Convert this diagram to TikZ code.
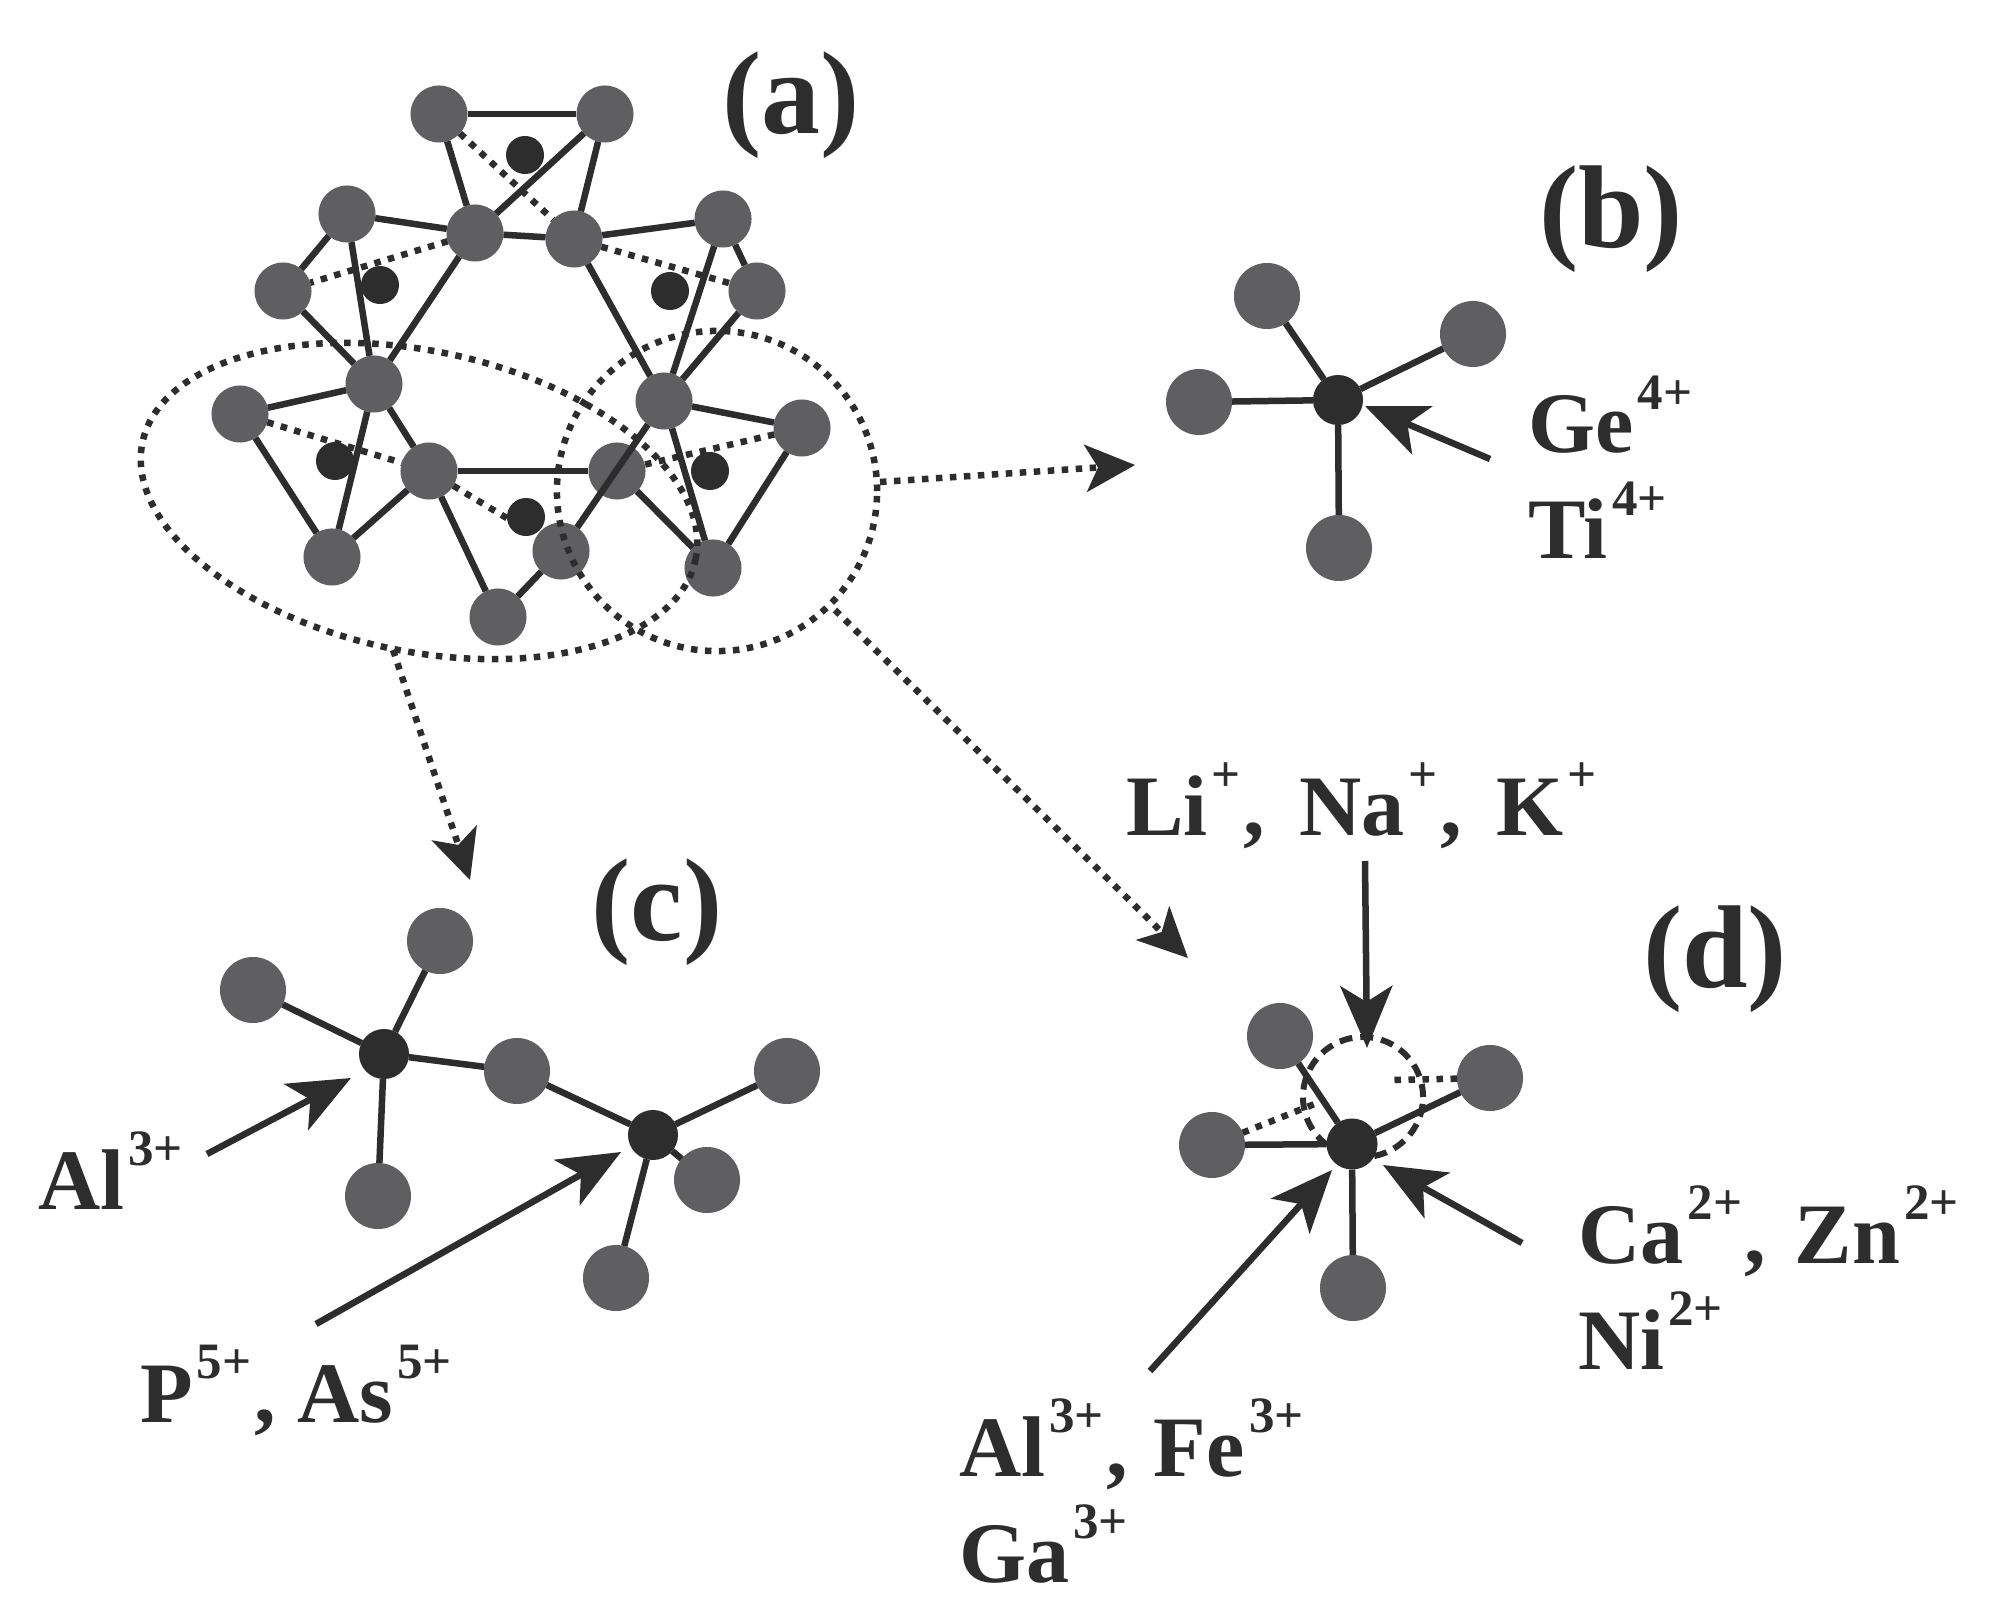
\documentclass[tikz,border=0pt]{standalone}
\usepackage{fontspec}
\setmainfont{Liberation Serif}
\usetikzlibrary{arrows.meta,shapes.geometric}
\definecolor{atomgray}{HTML}{5F5F61}
\definecolor{inkdark}{HTML}{2E2D2E}
\newcommand{\up}[1]{\kern0.05em\raisebox{0.5em}{\fontsize{14.5}{14.5}\selectfont #1}\kern0.03em}
\tikzset{
  x=0.01cm,y=-0.01cm,
  every node/.style={inner sep=0pt,outer sep=0pt},
  small atom/.style={circle,fill=atomgray,minimum size=0.57cm},
  big atom/.style={circle,fill=atomgray,minimum size=0.66cm},
  small core/.style={circle,fill=inkdark,minimum size=0.38cm},
  big core/.style={circle,fill=inkdark,minimum size=0.51cm},
  bond/.style={draw=inkdark,line width=0.065cm},
  dotline/.style={draw=inkdark,line width=0.065cm,dash pattern=on 0.065cm off 0.075cm},
  ring/.style={ellipse,draw=inkdark,line width=0.065cm,dash pattern=on 0.065cm off 0.075cm},
  arrowline/.style={draw=inkdark,line width=0.065cm,-{Stealth[length=0.62cm,width=0.52cm,inset=0.16cm]}},
  dotarrow/.style={dotline,-{Stealth[length=0.5cm,width=0.48cm,inset=0.13cm,fill=inkdark,line width=0pt,sep=0pt]}},
  title/.style={text=inkdark,font=\fontsize{33.5}{33.5}\selectfont\bfseries},
  ion/.style={text=inkdark,anchor=base west,font=\fontsize{24.5}{24.5}\selectfont\bfseries},
}
\begin{document}
\begin{tikzpicture}
\useasboundingbox[fill=white] (0,0) rectangle (2000,1622);
% (a) atoms
\foreach \n/\x/\y in {t1/439/114,t2/605/114,a/475/233,b/574/239,c/347/214,d/283/291,e/723/219,f/757/291,g/374/384,h/240/414,i/429/471,j/617/471,k/664/401,l/802/428,m/561/551,n/332/557,o/498/617,p/713/568}
  \node[small atom] (\n) at (\x,\y) {};
\foreach \u/\v in {t1/t2,t1/a,t2/a,t2/b,c/a,a/b,b/e,c/d,c/g,d/g,a/g,b/k,e/f,e/k,f/k,g/h,g/i,g/n,h/n,i/n,i/j,i/o,k/m,m/o,k/l,k/p,j/p,l/p}
  \draw[bond] (\u) -- (\v);
\foreach \u/\v in {t1/b,a/d,b/f,h/i,i/m,l/j}
  \draw[dotline] (\u) -- (\v);
\foreach \n/\x/\y in {s1/525/155,s2/380/285,s3/670/291,s4/335/461,s5/710/471,s6/526/517}
  \node[small core] (\n) at (\x,\y) {};
\node[ring,rotate=-12,minimum width=5.65cm,minimum height=3.0cm] (leftring) at (419,501) {};
\node[ring,minimum width=3.2cm,minimum height=3.2cm] (rightring) at (717,491) {};
\node[title] (la) at (791,105) {(a)};
% (b)
\node[small core,minimum size=0.5cm] (bc) at (1338,400) {};
\foreach \n/\x/\y in {b1/1267/296,b2/1473/334,b3/1199/402,b4/1339/548}
  {\node[big atom] (\n) at (\x,\y) {};
   \draw[bond] (bc) -- (\n);}
\node[title] (lb) at (1611,219) {(b)};
\node[ion] (ge) at (1528,453) {Ge\up{4+}};
\node[ion] (ti) at (1528,559) {Ti\up{4+}};
\coordinate (gs) at (1490,459);
\coordinate (gt) at (1365,406);
\draw[arrowline] (gs) -- (gt);
% (c)
\node[small core,minimum size=0.5cm] (c1) at (384,1054) {};
\node[small core,minimum size=0.5cm] (c2) at (653,1135) {};
\node[big atom] (cm) at (517,1071) {};
\foreach \n/\x/\y in {ca/253/990,cb/440/941,cc/378/1196}
  {\node[big atom] (\n) at (\x,\y) {};
   \draw[bond] (c1) -- (\n);}
\foreach \n/\x/\y in {cd/787/1071,ce/707/1180,cf/616/1278}
  {\node[big atom] (\n) at (\x,\y) {};
   \draw[bond] (c2) -- (\n);}
\draw[bond] (c1) -- (cm);
\draw[bond] (cm) -- (c2);
\node[title] (lc) at (657,912) {(c)};
\node[ion] (al) at (38,1209) {Al\up{3+}};
\node[ion] (pas) at (140,1422) {P\up{5+}, As\up{5+}};
\coordinate (as) at (207,1154);
\coordinate (at) at (351,1078);
\coordinate (ps) at (316,1324);
\coordinate (pt) at (621,1152);
\draw[arrowline] (as) -- (at);
\draw[arrowline] (ps) -- (pt);
% (d)
\node[circle,draw=inkdark,line width=0.06cm,dash pattern=on 0.13cm off 0.08cm,minimum size=1.2cm] (dring) at (1363,1097) {};
\node[big core] (dc) at (1352,1144) {};
\foreach \n/\x/\y in {d1/1280/1036,d2/1490/1078,d3/1212/1145,d4/1353/1288}
  {\node[big atom] (\n) at (\x,\y) {};
   \draw[bond] (dc) -- (\n);}
\coordinate (dd1) at (1317,1103);
\coordinate (dd2) at (1390,1080);
\draw[dotline] (d3) -- (dd1);
\draw[dotline] (d2) -- (dd2);
\node[title] (ld) at (1715,959) {(d)};
\node[ion] (li) at (1126,835) {Li\up{+}, \kern0.15em Na\up{+}, \kern0.15em K\up{+}};
\node[ion] (ca) at (1578,1263) {Ca\up{2+}, \kern0.08em Zn\up{2+}};
\node[ion] (ni) at (1578,1369) {Ni\up{2+}};
\node[ion] (alfe) at (959,1476) {Al\up{3+}, \kern0.05em Fe\up{3+}};
\node[ion] (ga) at (959,1582) {Ga\up{3+}};
\coordinate (ls) at (1365,861);
\coordinate (lt) at (1367,1048);
\coordinate (cs) at (1522,1243);
\coordinate (ct) at (1383,1165);
\coordinate (fs) at (1150,1371);
\coordinate (ft) at (1332,1170);
\draw[arrowline] (ls) -- (lt);
\draw[arrowline] (cs) -- (ct);
\draw[arrowline] (fs) -- (ft);
% dotted leaders
\coordinate (r1) at (880,482);
\coordinate (r2) at (1135,465);
\coordinate (r3) at (393,650);
\coordinate (r4) at (470,880);
\coordinate (r5) at (835,610);
\coordinate (r6) at (1188,958);
\draw[dotarrow] (r1) -- (r2);
\draw[dotarrow] (r3) -- (r4);
\draw[dotarrow] (r5) -- (r6);
\end{tikzpicture}
\end{document}
